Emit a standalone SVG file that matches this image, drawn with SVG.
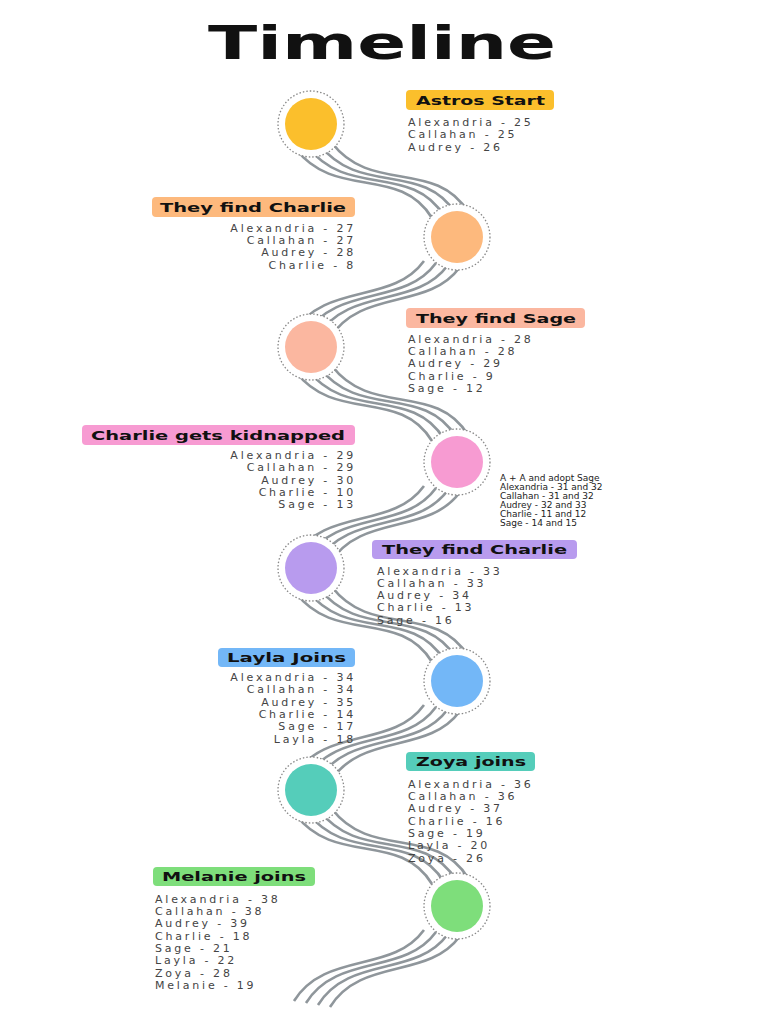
<svg xmlns="http://www.w3.org/2000/svg" width="768" height="1024" viewBox="0 0 768 1024">
<style>
.t{font-family:"DejaVu Sans",sans-serif;font-weight:bold;font-size:46px;fill:#111}
.p{font-family:"DejaVu Sans",sans-serif;font-weight:bold;font-size:13px;fill:#111}
.d{font-family:"DejaVu Sans",sans-serif;font-size:11px;fill:#444;letter-spacing:2.8px}
.r{text-anchor:end}
.s{font-family:"DejaVu Sans",sans-serif;font-size:9px;fill:#222}
.ring{fill:#fff;stroke:#888;stroke-width:1.3;stroke-dasharray:1.5 2}
.w use{stroke:#8f969b;stroke-width:2.6;fill:none}
</style>
<defs>
<path id="dr" d="M296,149 C335,200 400,165 432,218"/>
<path id="dl" d="M424,261 C392,305 325,282 294,332"/>
</defs>
<rect width="768" height="1024" fill="#fff"/>
<text class="t" x="208" y="59" textLength="348" lengthAdjust="spacingAndGlyphs">Timeline</text>
<g id="connectors" class="w">
<g transform="translate(0,0)"><use href="#dr"/><use href="#dr" x="12" y="-2"/><use href="#dr" x="24" y="-4"/><use href="#dr" x="36" y="-6"/></g>
<g transform="translate(0,0)"><use href="#dl"/><use href="#dl" x="12" y="2"/><use href="#dl" x="24" y="4"/><use href="#dl" x="36" y="6"/></g>
<g transform="translate(0,223)"><use href="#dr"/><use href="#dr" x="12" y="-2"/><use href="#dr" x="24" y="-4"/><use href="#dr" x="36" y="-6"/></g>
<g transform="translate(0,225)"><use href="#dl"/><use href="#dl" x="12" y="2"/><use href="#dl" x="24" y="4"/><use href="#dl" x="36" y="6"/></g>
<g transform="translate(0,444)"><use href="#dr"/><use href="#dr" x="12" y="-2"/><use href="#dr" x="24" y="-4"/><use href="#dr" x="36" y="-6"/></g>
<g transform="translate(0,444)"><use href="#dl"/><use href="#dl" x="12" y="2"/><use href="#dl" x="24" y="4"/><use href="#dl" x="36" y="6"/></g>
<g transform="translate(0,666)"><use href="#dr"/><use href="#dr" x="12" y="-2"/><use href="#dr" x="24" y="-4"/><use href="#dr" x="36" y="-6"/></g>
<g transform="translate(0,669)"><use href="#dl"/><use href="#dl" x="12" y="2"/><use href="#dl" x="24" y="4"/><use href="#dl" x="36" y="6"/></g>
</g>
<g id="n1"><circle class="ring" cx="311" cy="124" r="33"/><circle cx="311" cy="124" r="26" fill="#FBBF2C"/>
<rect x="406" y="90" width="148" height="20" rx="4" fill="#FBBF2C"/><text class="p" x="416" y="105" textLength="129" lengthAdjust="spacingAndGlyphs">Astros Start</text>
<text class="d" x="408" y="126">Alexandria - 25</text><text class="d" x="408" y="138">Callahan - 25</text><text class="d" x="408" y="151">Audrey - 26</text></g>
<g id="n2"><circle class="ring" cx="457" cy="237" r="33"/><circle cx="457" cy="237" r="26" fill="#FDB97D"/>
<rect x="152" y="197" width="203" height="20" rx="4" fill="#FDB97D"/><text class="p" x="160" y="212" textLength="186" lengthAdjust="spacingAndGlyphs">They find Charlie</text>
<text class="d r" x="356" y="232">Alexandria - 27</text><text class="d r" x="356" y="244">Callahan - 27</text><text class="d r" x="356" y="256">Audrey - 28</text><text class="d r" x="356" y="269">Charlie - 8</text></g>
<g id="n3"><circle class="ring" cx="311" cy="347" r="33"/><circle cx="311" cy="347" r="26" fill="#FBB7A0"/>
<rect x="406" y="308" width="179" height="20" rx="4" fill="#FBB7A0"/><text class="p" x="416" y="323" textLength="160" lengthAdjust="spacingAndGlyphs">They find Sage</text>
<text class="d" x="408" y="343">Alexandria - 28</text><text class="d" x="408" y="355">Callahan - 28</text><text class="d" x="408" y="367">Audrey - 29</text><text class="d" x="408" y="380">Charlie - 9</text><text class="d" x="408" y="392">Sage - 12</text></g>
<g id="n4"><circle class="ring" cx="457" cy="462" r="33"/><circle cx="457" cy="462" r="26" fill="#F79BD2"/>
<rect x="82" y="425" width="273" height="20" rx="4" fill="#F79BD2"/><text class="p" x="91" y="440" textLength="254" lengthAdjust="spacingAndGlyphs">Charlie gets kidnapped</text>
<text class="d r" x="356" y="459">Alexandria - 29</text><text class="d r" x="356" y="471">Callahan - 29</text><text class="d r" x="356" y="484">Audrey - 30</text><text class="d r" x="356" y="496">Charlie - 10</text><text class="d r" x="356" y="508">Sage - 13</text>
<text class="s" x="500" y="481">A + A and adopt Sage</text><text class="s" x="500" y="490">Alexandria - 31 and 32</text><text class="s" x="500" y="499">Callahan - 31 and 32</text><text class="s" x="500" y="508">Audrey - 32 and 33</text><text class="s" x="500" y="517">Charlie - 11 and 12</text><text class="s" x="500" y="526">Sage - 14 and 15</text></g>
<g id="n5"><circle class="ring" cx="311" cy="568" r="33"/><circle cx="311" cy="568" r="26" fill="#B89BEE"/>
<rect x="372" y="540" width="205" height="19" rx="4" fill="#B89BEE"/><text class="p" x="382" y="554" textLength="185" lengthAdjust="spacingAndGlyphs">They find Charlie</text>
<text class="d" x="377" y="575">Alexandria - 33</text><text class="d" x="377" y="587">Callahan - 33</text><text class="d" x="377" y="599">Audrey - 34</text><text class="d" x="377" y="611">Charlie - 13</text><text class="d" x="377" y="624">Sage - 16</text></g>
<g id="n6"><circle class="ring" cx="457" cy="681" r="33"/><circle cx="457" cy="681" r="26" fill="#73B7F7"/>
<rect x="218" y="648" width="137" height="19" rx="4" fill="#73B7F7"/><text class="p" x="227" y="662" textLength="119" lengthAdjust="spacingAndGlyphs">Layla Joins</text>
<text class="d r" x="356" y="681">Alexandria - 34</text><text class="d r" x="356" y="693">Callahan - 34</text><text class="d r" x="356" y="706">Audrey - 35</text><text class="d r" x="356" y="718">Charlie - 14</text><text class="d r" x="356" y="730">Sage - 17</text><text class="d r" x="356" y="743">Layla - 18</text></g>
<g id="n7"><circle class="ring" cx="311" cy="790" r="33"/><circle cx="311" cy="790" r="26" fill="#55CDBA"/>
<rect x="406" y="752" width="129" height="19" rx="4" fill="#55CDBA"/><text class="p" x="416" y="766" textLength="110" lengthAdjust="spacingAndGlyphs">Zoya joins</text>
<text class="d" x="408" y="788">Alexandria - 36</text><text class="d" x="408" y="800">Callahan - 36</text><text class="d" x="408" y="812">Audrey - 37</text><text class="d" x="408" y="825">Charlie - 16</text><text class="d" x="408" y="837">Sage - 19</text><text class="d" x="408" y="849">Layla - 20</text><text class="d" x="408" y="862">Zoya - 26</text></g>
<g id="n8"><circle class="ring" cx="457" cy="906" r="33"/><circle cx="457" cy="906" r="26" fill="#7EDE7B"/>
<rect x="153" y="867" width="162" height="19" rx="4" fill="#7EDE7B"/><text class="p" x="162" y="881" textLength="144" lengthAdjust="spacingAndGlyphs">Melanie joins</text>
<text class="d" x="155" y="903">Alexandria - 38</text><text class="d" x="155" y="915">Callahan - 38</text><text class="d" x="155" y="927">Audrey - 39</text><text class="d" x="155" y="940">Charlie - 18</text><text class="d" x="155" y="952">Sage - 21</text><text class="d" x="155" y="964">Layla - 22</text><text class="d" x="155" y="977">Zoya - 28</text><text class="d" x="155" y="989">Melanie - 19</text></g>
</svg>
